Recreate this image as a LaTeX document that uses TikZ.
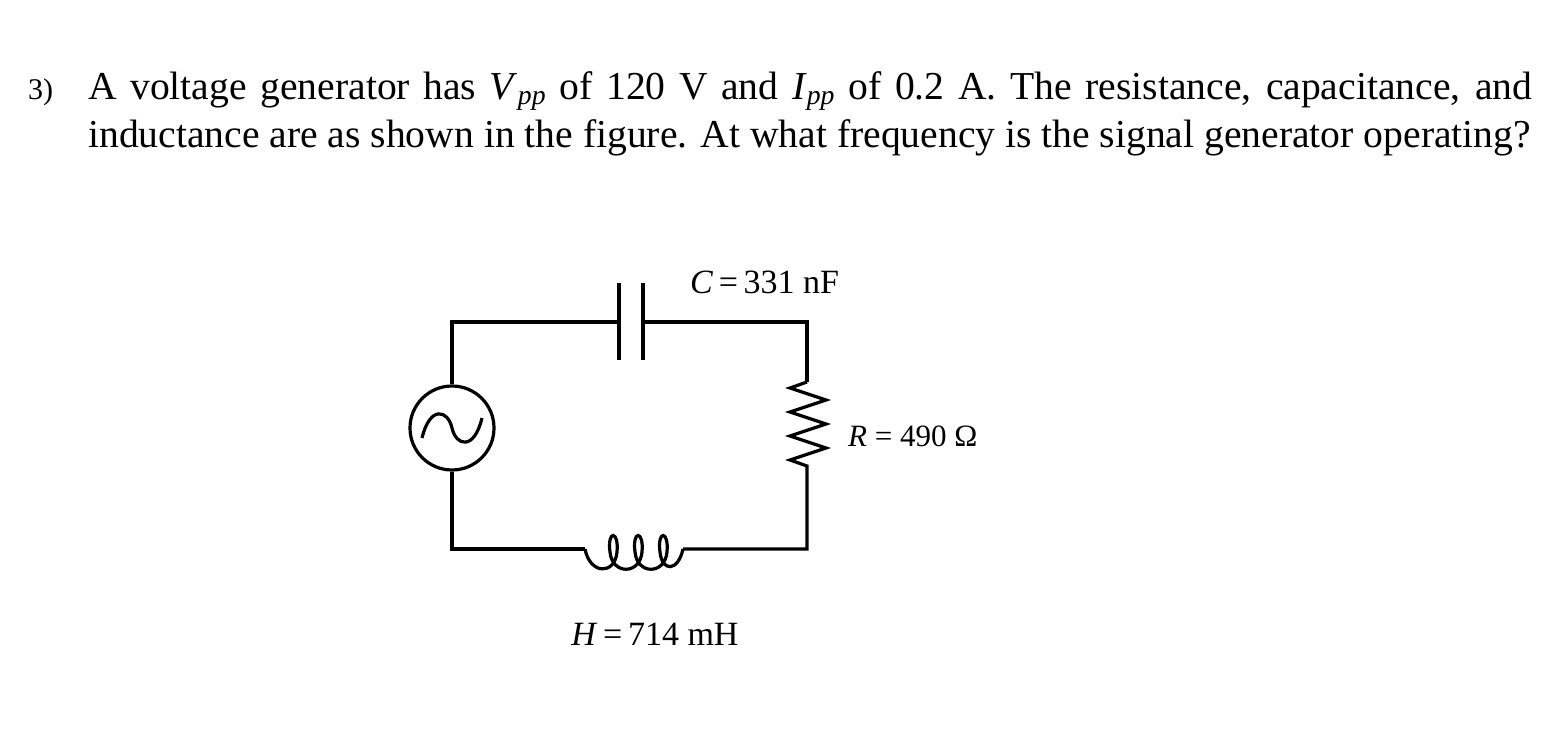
\documentclass[tikz,border=0pt]{standalone}
\usepackage{fontspec}
\setmainfont{Liberation Serif}
\usetikzlibrary{decorations.pathmorphing}
\newcommand{\pp}{\textsubscript{\textit{pp}}}
\begin{document}
\begin{tikzpicture}[x=1pt,y=-1pt,wire/.style={line width=3.2pt,line join=miter}]
\useasboundingbox (0,0) rectangle (1566,730);
\node[anchor=base west,inner sep=0] (num) at (28,100) {\fontsize{30}{36}\selectfont 3)};
\node[anchor=base west,inner sep=0] (q1) at (88,100) {\fontsize{39.6}{48}\selectfont\makebox[1444pt][s]{A voltage generator has \textit{V}\pp{} of 120 V and \textit{I}\pp{} of 0.2 A. The resistance, capacitance, and}};
\node[anchor=base west,inner sep=0] (q2) at (88,148) {\fontsize{39.6}{48}\selectfont inductance are as shown in the figure. At what frequency is the signal generator operating?};
\coordinate (tl) at (452,322); \coordinate (tr) at (807,322);
\coordinate (bl) at (452,549); \coordinate (br) at (807,549);
\node[draw,circle,line width=3.2pt,minimum size=84pt,inner sep=0] (src) at (452,428) {};
\draw[wire] (src.north) -- (tl) -- (619,322);
\draw[wire] (643,322) -- (tr) -- (807,382);
\draw[wire] (619,283) -- (619,360);
\draw[wire] (643,283) -- (643,360);
\draw[wire] (807,382) -- (790,388) -- (826,400) -- (790,412) -- (826,424) -- (790,436) -- (826,448) -- (790,460) -- (807,466) -- (807,470) -- (br) -- (683,549);
\draw[wire] (585,549) -- (bl) -- (src.south);
\draw[wire] (585,549) .. controls (590,575) and (615,575) .. (617,552)
  .. controls (619,530) and (607,530) .. (610,552)
  .. controls (612,575) and (640,575) .. (642,552)
  .. controls (644,530) and (632,530) .. (635,552)
  .. controls (637,575) and (665,575) .. (667,552)
  .. controls (669,530) and (657,530) .. (660,552)
  .. controls (662,572) and (678,572) .. (683,549);
\draw[line width=3.2pt] (422,438) .. controls (430,405) and (448,410) .. (452,428) .. controls (456,446) and (474,451) .. (482,418);
\node[anchor=base west,inner sep=0] (cl) at (690,293) {\fontsize{34}{40}\selectfont\textit{C}\,=\,331 nF};
\node[anchor=base west,inner sep=0] (rl) at (848,446) {\fontsize{31}{36}\selectfont\textit{R} = 490 Ω};
\node[anchor=base,inner sep=0] (hl) at (655,645) {\fontsize{34}{40}\selectfont\textit{H}\,=\,714 mH};
\end{tikzpicture}
\end{document}
